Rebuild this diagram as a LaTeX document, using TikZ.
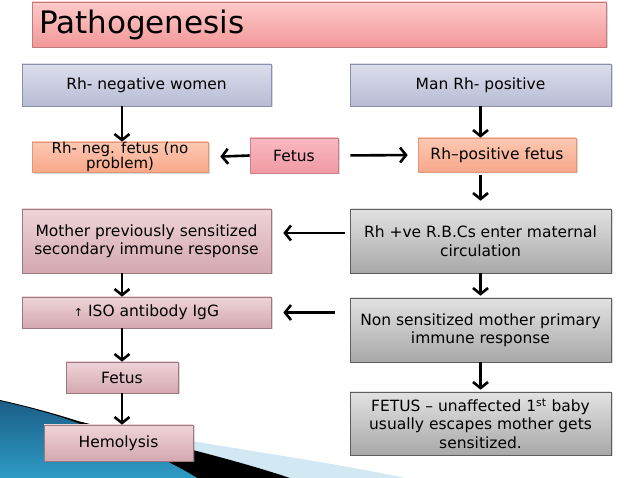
\documentclass[tikz,border=0pt]{standalone}
\usepackage{fontspec}
\setmainfont{DejaVu Sans}
\usetikzlibrary{arrows.meta,shadows}
\definecolor{tituloclaro}{HTML}{FFCACA}
\definecolor{titulooscuro}{HTML}{F29898}
\definecolor{lilaclaro}{HTML}{DCDEEC}
\definecolor{lilaoscuro}{HTML}{B8BCD4}
\definecolor{lilaborde}{HTML}{8A90AE}
\definecolor{salmonclaro}{HTML}{FDC8B2}
\definecolor{salmonoscuro}{HTML}{F8A88A}
\definecolor{salmonborde}{HTML}{E0967A}
\definecolor{rosaclaro}{HTML}{FAB8C0}
\definecolor{rosaoscuro}{HTML}{F09AA4}
\definecolor{rosaborde}{HTML}{C98088}
\definecolor{malvaclaro}{HTML}{EED4D8}
\definecolor{malvaoscuro}{HTML}{D4A8B0}
\definecolor{malvaborde}{HTML}{9E7880}
\definecolor{grisclaro}{HTML}{E2E2E2}
\definecolor{grisoscuro}{HTML}{A8A8A8}
\definecolor{grisborde}{HTML}{5E5E5E}
\definecolor{azulclaro}{HTML}{D2E8F2}
\definecolor{azuloscuro}{HTML}{1B5E88}
\definecolor{azulmedio}{HTML}{2E9CC4}
\newfontfamily\simbolos{DejaVu Sans}
\begin{document}
\begin{tikzpicture}[x=1pt, y=-1pt,
        caja/.style={draw, line width=0.6pt, inner sep=2pt, align=center,
            font=\fontsize{15.5}{18.5}\selectfont,
            drop shadow={shadow xshift=1.5pt, shadow yshift=-1.5pt, opacity=0.3}},
        lila/.style={caja, draw=lilaborde, top color=lilaclaro, bottom color=lilaoscuro},
        salmon/.style={caja, draw=salmonborde, top color=salmonclaro, bottom color=salmonoscuro},
        rosa/.style={caja, draw=rosaborde, top color=rosaclaro, bottom color=rosaoscuro},
        malva/.style={caja, draw=malvaborde, top color=malvaclaro, bottom color=malvaoscuro},
        gris/.style={caja, draw=grisborde, top color=grisclaro, bottom color=grisoscuro},
        flecha/.style={line width=2.6pt, -{Straight Barb[length=6pt, width=15pt, line width=2.6pt]}}]
    \useasboundingbox (0,0) rectangle (638,478);
    % Onda decorativa
    \fill[azulclaro] (140,432) .. controls (240,450) and (330,462) .. (405,478) -- (140,478) -- cycle;
    \fill[black] (0,400) .. controls (40,409) and (65,417) .. (78,421) .. controls (160,442) and (230,458) .. (290,478) -- (0,478) -- cycle;
    \shade[top color=azuloscuro, bottom color=azulmedio] (0,401) .. controls (40,410) and (65,418) .. (80,424) .. controls (125,442) and (165,458) .. (197,478) -- (0,478) -- cycle;
    % Titulo
    \node[draw=titulooscuro!80!black, line width=0.6pt, top color=tituloclaro, bottom color=titulooscuro,
        minimum width=574, minimum height=45, text width=560, inner sep=0pt, align=left,
        font=\fontsize{31}{34}\selectfont,
        drop shadow={shadow xshift=1.5pt, shadow yshift=-1.5pt, opacity=0.3}] (titulo) at (319,24.5) {Pathogenesis};
    % Columna izquierda
    \node[lila, minimum width=249, minimum height=42] (mujer) at (146.5,85) {Rh- negative women};
    \node[salmon, minimum width=176, minimum height=30, inner sep=0pt, font=\fontsize{15}{14}\selectfont] (fetoneg) at (120,157) {Rh- neg. fetus (no\\problem)};
    \node[rosa, minimum width=88, minimum height=35] (feto) at (294,155.5) {Fetus};
    \node[malva, minimum width=249, minimum height=64] (madre) at (146.5,241) {Mother previously sensitized\\secondary immune response};
    \node[malva, minimum width=249, minimum height=31] (iso) at (146.5,312.5) {{\simbolos\fontsize{11}{12}\selectfont↑} ISO antibody IgG};
    \node[malva, minimum width=112, minimum height=31] (feto2) at (122,377.5) {Fetus};
    \node[malva, minimum width=149, minimum height=36] (hemo) at (118.5,443) {Hemolysis};
    % Columna derecha
    \node[lila, minimum width=261, minimum height=42] (hombre) at (480.5,85) {Man Rh- positive};
    \node[salmon, minimum width=158, minimum height=34] (fetopos) at (497,155) {Rh–positive fetus};
    \node[gris, minimum width=261, minimum height=64] (rbc) at (480.5,241) {Rh +ve R.B.Cs enter maternal\\circulation};
    \node[gris, minimum width=261, minimum height=64] (nosens) at (480.5,330) {Non sensitized mother primary\\immune response};
    \node[gris, minimum width=261, minimum height=63] (ileso) at (480.5,423.5) {FETUS – unaffected 1\textsuperscript{st} baby\\usually escapes mother gets\\sensitized.};
    % Flechas verticales
    \draw[flecha] (mujer.south -| feto2) -- (fetoneg.north -| feto2);
    \draw[flecha] (hombre.south) -- (fetopos.north -| hombre);
    \draw[flecha, shorten <=3pt, shorten >=8pt] (fetopos.south -| hombre) -- (rbc.north);
    \draw[flecha] (rbc.south) -- ([yshift=2pt]nosens.north);
    \draw[flecha] (nosens.south) -- ([yshift=2pt]ileso.north);
    \draw[flecha] (madre.south -| feto2) -- (iso.north -| feto2);
    \draw[flecha] (iso.south -| feto2) -- (feto2.north);
    \draw[flecha] (feto2.south) -- (hemo.north -| feto2);
    % Flechas horizontales
    \draw[flecha, shorten >=12pt] (feto.west) -- (fetoneg.east);
    \draw[flecha, shorten <=12pt, shorten >=10pt] (feto.east) -- (fetopos.west);
    \draw[flecha, shorten <=5pt, shorten >=12pt] ([yshift=8pt]rbc.west) -- ([yshift=8pt]madre.east);
    \draw[flecha, shorten <=15pt, shorten >=12pt] (iso.east -| nosens.west) -- (iso.east);
\end{tikzpicture}
\end{document}
